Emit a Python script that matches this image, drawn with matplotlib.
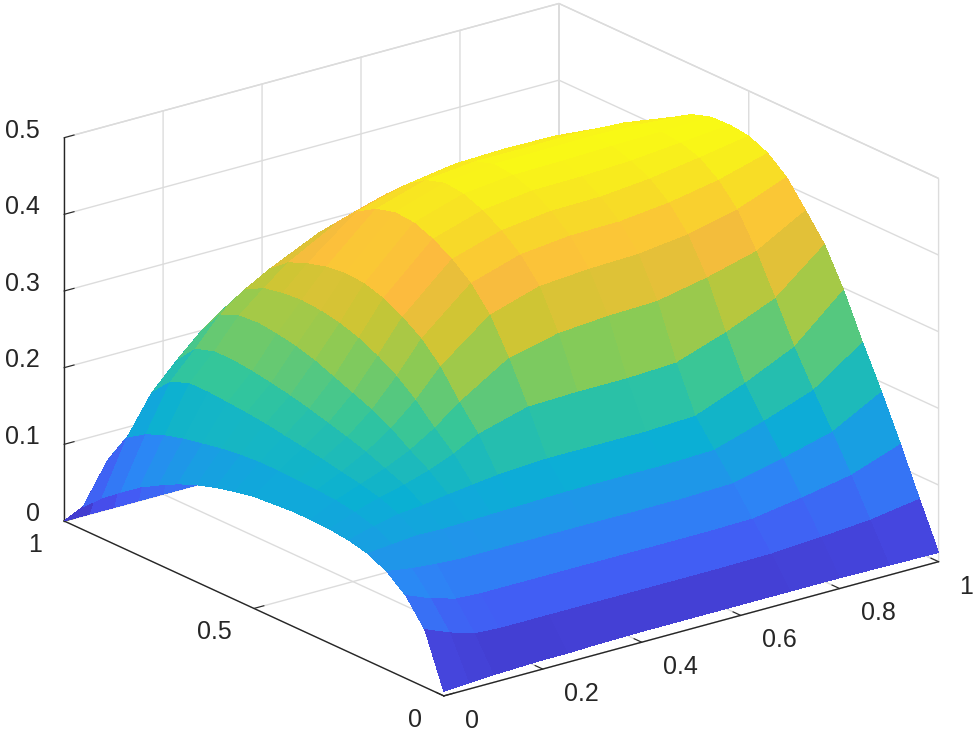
import numpy as np
import matplotlib
matplotlib.use("Agg")
import matplotlib.pyplot as plt
from matplotlib.colors import LinearSegmentedColormap, Normalize
from mpl_toolkits.mplot3d import proj3d

# grid
x_vals = [0.0, 0.05, 0.1, 0.15, 0.2, 0.25, 0.3, 0.4, 0.5, 0.6, 0.7, 0.8, 0.9, 1.0]
y_vals = [0.0, 0.05, 0.1, 0.15, 0.2, 0.25, 0.3, 0.35, 0.4, 0.45, 0.5,
          0.55, 0.6, 0.65, 0.7, 0.75, 0.8, 0.85, 0.9, 0.95, 1.0]

# one row per y value, one column per x value
z_rows = [
    [0.006, 0.008, 0.010, 0.011, 0.012, 0.012, 0.013, 0.014, 0.014, 0.014, 0.014, 0.014, 0.013, 0.012],
    [0.075, 0.062, 0.052, 0.050, 0.050, 0.050, 0.050, 0.050, 0.050, 0.050, 0.051, 0.055, 0.060, 0.070],
    [0.108, 0.095, 0.086, 0.084, 0.084, 0.084, 0.084, 0.084, 0.084, 0.084, 0.085, 0.095, 0.107, 0.130],
    [0.128, 0.123, 0.120, 0.118, 0.118, 0.118, 0.118, 0.118, 0.118, 0.118, 0.120, 0.135, 0.152, 0.187],
    [0.140, 0.143, 0.146, 0.145, 0.146, 0.147, 0.148, 0.150, 0.150, 0.150, 0.152, 0.172, 0.195, 0.240],
    [0.146, 0.155, 0.162, 0.165, 0.170, 0.174, 0.178, 0.182, 0.182, 0.182, 0.185, 0.210, 0.240, 0.297],
    [0.149, 0.162, 0.172, 0.180, 0.190, 0.203, 0.220, 0.238, 0.240, 0.240, 0.243, 0.265, 0.292, 0.345],
    [0.150, 0.166, 0.178, 0.190, 0.205, 0.225, 0.250, 0.290, 0.305, 0.310, 0.312, 0.325, 0.342, 0.378],
    [0.150, 0.168, 0.183, 0.200, 0.222, 0.250, 0.285, 0.335, 0.355, 0.360, 0.362, 0.370, 0.385, 0.410],
    [0.148, 0.169, 0.188, 0.208, 0.235, 0.270, 0.310, 0.365, 0.385, 0.392, 0.393, 0.400, 0.412, 0.430],
    [0.146, 0.170, 0.192, 0.215, 0.245, 0.285, 0.327, 0.385, 0.405, 0.413, 0.414, 0.420, 0.430, 0.441],
    [0.141, 0.170, 0.196, 0.222, 0.255, 0.297, 0.340, 0.400, 0.420, 0.428, 0.429, 0.432, 0.438, 0.444],
    [0.135, 0.168, 0.200, 0.228, 0.265, 0.305, 0.348, 0.410, 0.430, 0.437, 0.438, 0.440, 0.441, 0.443],
    [0.127, 0.165, 0.203, 0.233, 0.272, 0.310, 0.350, 0.412, 0.433, 0.440, 0.441, 0.442, 0.440, 0.435],
    [0.117, 0.160, 0.205, 0.237, 0.277, 0.312, 0.347, 0.405, 0.425, 0.432, 0.432, 0.433, 0.430, 0.420],
    [0.104, 0.155, 0.207, 0.240, 0.280, 0.310, 0.340, 0.390, 0.408, 0.418, 0.420, 0.419, 0.413, 0.400],
    [0.090, 0.148, 0.207, 0.240, 0.278, 0.305, 0.330, 0.365, 0.385, 0.392, 0.392, 0.390, 0.386, 0.380],
    [0.072, 0.138, 0.198, 0.232, 0.268, 0.292, 0.310, 0.340, 0.360, 0.365, 0.365, 0.360, 0.357, 0.350],
    [0.053, 0.122, 0.172, 0.205, 0.235, 0.258, 0.278, 0.300, 0.322, 0.328, 0.330, 0.322, 0.316, 0.310],
    [0.030, 0.082, 0.112, 0.140, 0.160, 0.175, 0.185, 0.195, 0.215, 0.222, 0.222, 0.220, 0.216, 0.210],
    [0.000, 0.000, 0.000, 0.000, 0.000, 0.000, 0.000, 0.000, 0.000, 0.000, 0.000, 0.000, 0.000, 0.000],
]

x_ticks = [0, 0.2, 0.4, 0.6, 0.8, 1]
x_labels = ["0", "0.2", "0.4", "0.6", "0.8", "1"]
y_ticks = [0, 0.5, 1]
y_labels = ["0", "0.5", "1"]
z_ticks = [0, 0.1, 0.2, 0.3, 0.4, 0.5]
z_labels = ["0", "0.1", "0.2", "0.3", "0.4", "0.5"]

# parula-like map
parula = LinearSegmentedColormap.from_list("parula", [
    (0.00, (0.2422, 0.1504, 0.6603)),
    (0.12, (0.2810, 0.3228, 0.9579)),
    (0.25, (0.1700, 0.5300, 0.9600)),
    (0.38, (0.0400, 0.6900, 0.8300)),
    (0.50, (0.2000, 0.7750, 0.6100)),
    (0.62, (0.5300, 0.7950, 0.3400)),
    (0.72, (0.8000, 0.7750, 0.2000)),
    (0.82, (0.9900, 0.7350, 0.2450)),
    (0.91, (0.9700, 0.8500, 0.1600)),
    (1.00, (0.9769, 0.9839, 0.0805)),
])

X, Y = np.meshgrid(x_vals, y_vals)
Z = np.array(z_rows)

plt.rcParams["font.family"] = ["Liberation Sans", "DejaVu Sans"]
txt = "#262626"

fig = plt.figure(figsize=(9.75, 7.37), dpi=100)
ax = fig.add_axes([0.004, 0.012, 1, 1], projection="3d", proj_type="ortho")
ax.view_init(elev=20.7, azim=-127.5)
ax.set_box_aspect((1, 1, 0.657), zoom=1.281)

norm = Normalize(vmin=Z.min(), vmax=Z.max())
surf = ax.plot_surface(X, Y, Z, cmap=parula, norm=norm, linewidth=0,
                       antialiased=False, shade=False, rstride=1, cstride=1)
surf.set_clip_on(False)

ax.set_xlim(0, 1)
ax.set_ylim(0, 1)
ax.set_zlim(0, 0.5)
ax.set_xticks(x_ticks)
ax.set_yticks(y_ticks)
ax.set_zticks(z_ticks)
ax.set_xticklabels([])
ax.set_yticklabels([])
ax.set_zticklabels([])

for axis in (ax.xaxis, ax.yaxis, ax.zaxis):
    axis.set_pane_color((1, 1, 1, 1))
    axis.pane.set_edgecolor("#d9d9d9")
    axis._axinfo["grid"]["color"] = "#dcdcdc"
    axis._axinfo["grid"]["linewidth"] = 1.0
    axis._axinfo["tick"]["inward_factor"] = 0.0
    axis._axinfo["tick"]["outward_factor"] = 0.25
    axis.line.set_color(txt)
    axis.line.set_linewidth(1.0)
    axis.set_tick_params(colors=txt, labelbottom=False, labelleft=False)
    axis.label.set_visible(False)
    axis.offsetText.set_visible(False)
for t in (ax.title, ax._left_title, ax._right_title):
    t.set_visible(False)

# tick labels as plain figure text, at the spots MATLAB puts them
fig.canvas.draw()
M = ax.get_proj()
W, H = fig.bbox.width, fig.bbox.height


def put_label(x, y, z, s, ha):
    x2, y2, _ = proj3d.proj_transform(x, y, z, M)
    px, py = ax.transData.transform((x2, y2))
    fig.text(px / W, py / H, s, ha=ha, va="center", fontsize=18, color=txt)


for v, s in zip(x_ticks, x_labels):
    put_label(v, -0.055, -0.02, s, "left")
for v, s in zip(y_ticks, y_labels):
    put_label(-0.045, v, -0.0235, s, "right")
for v, s in zip(z_ticks, z_labels):
    put_label(0, 1.063, v - 0.005, s, "right")

plt.savefig("out.png", dpi=100)
